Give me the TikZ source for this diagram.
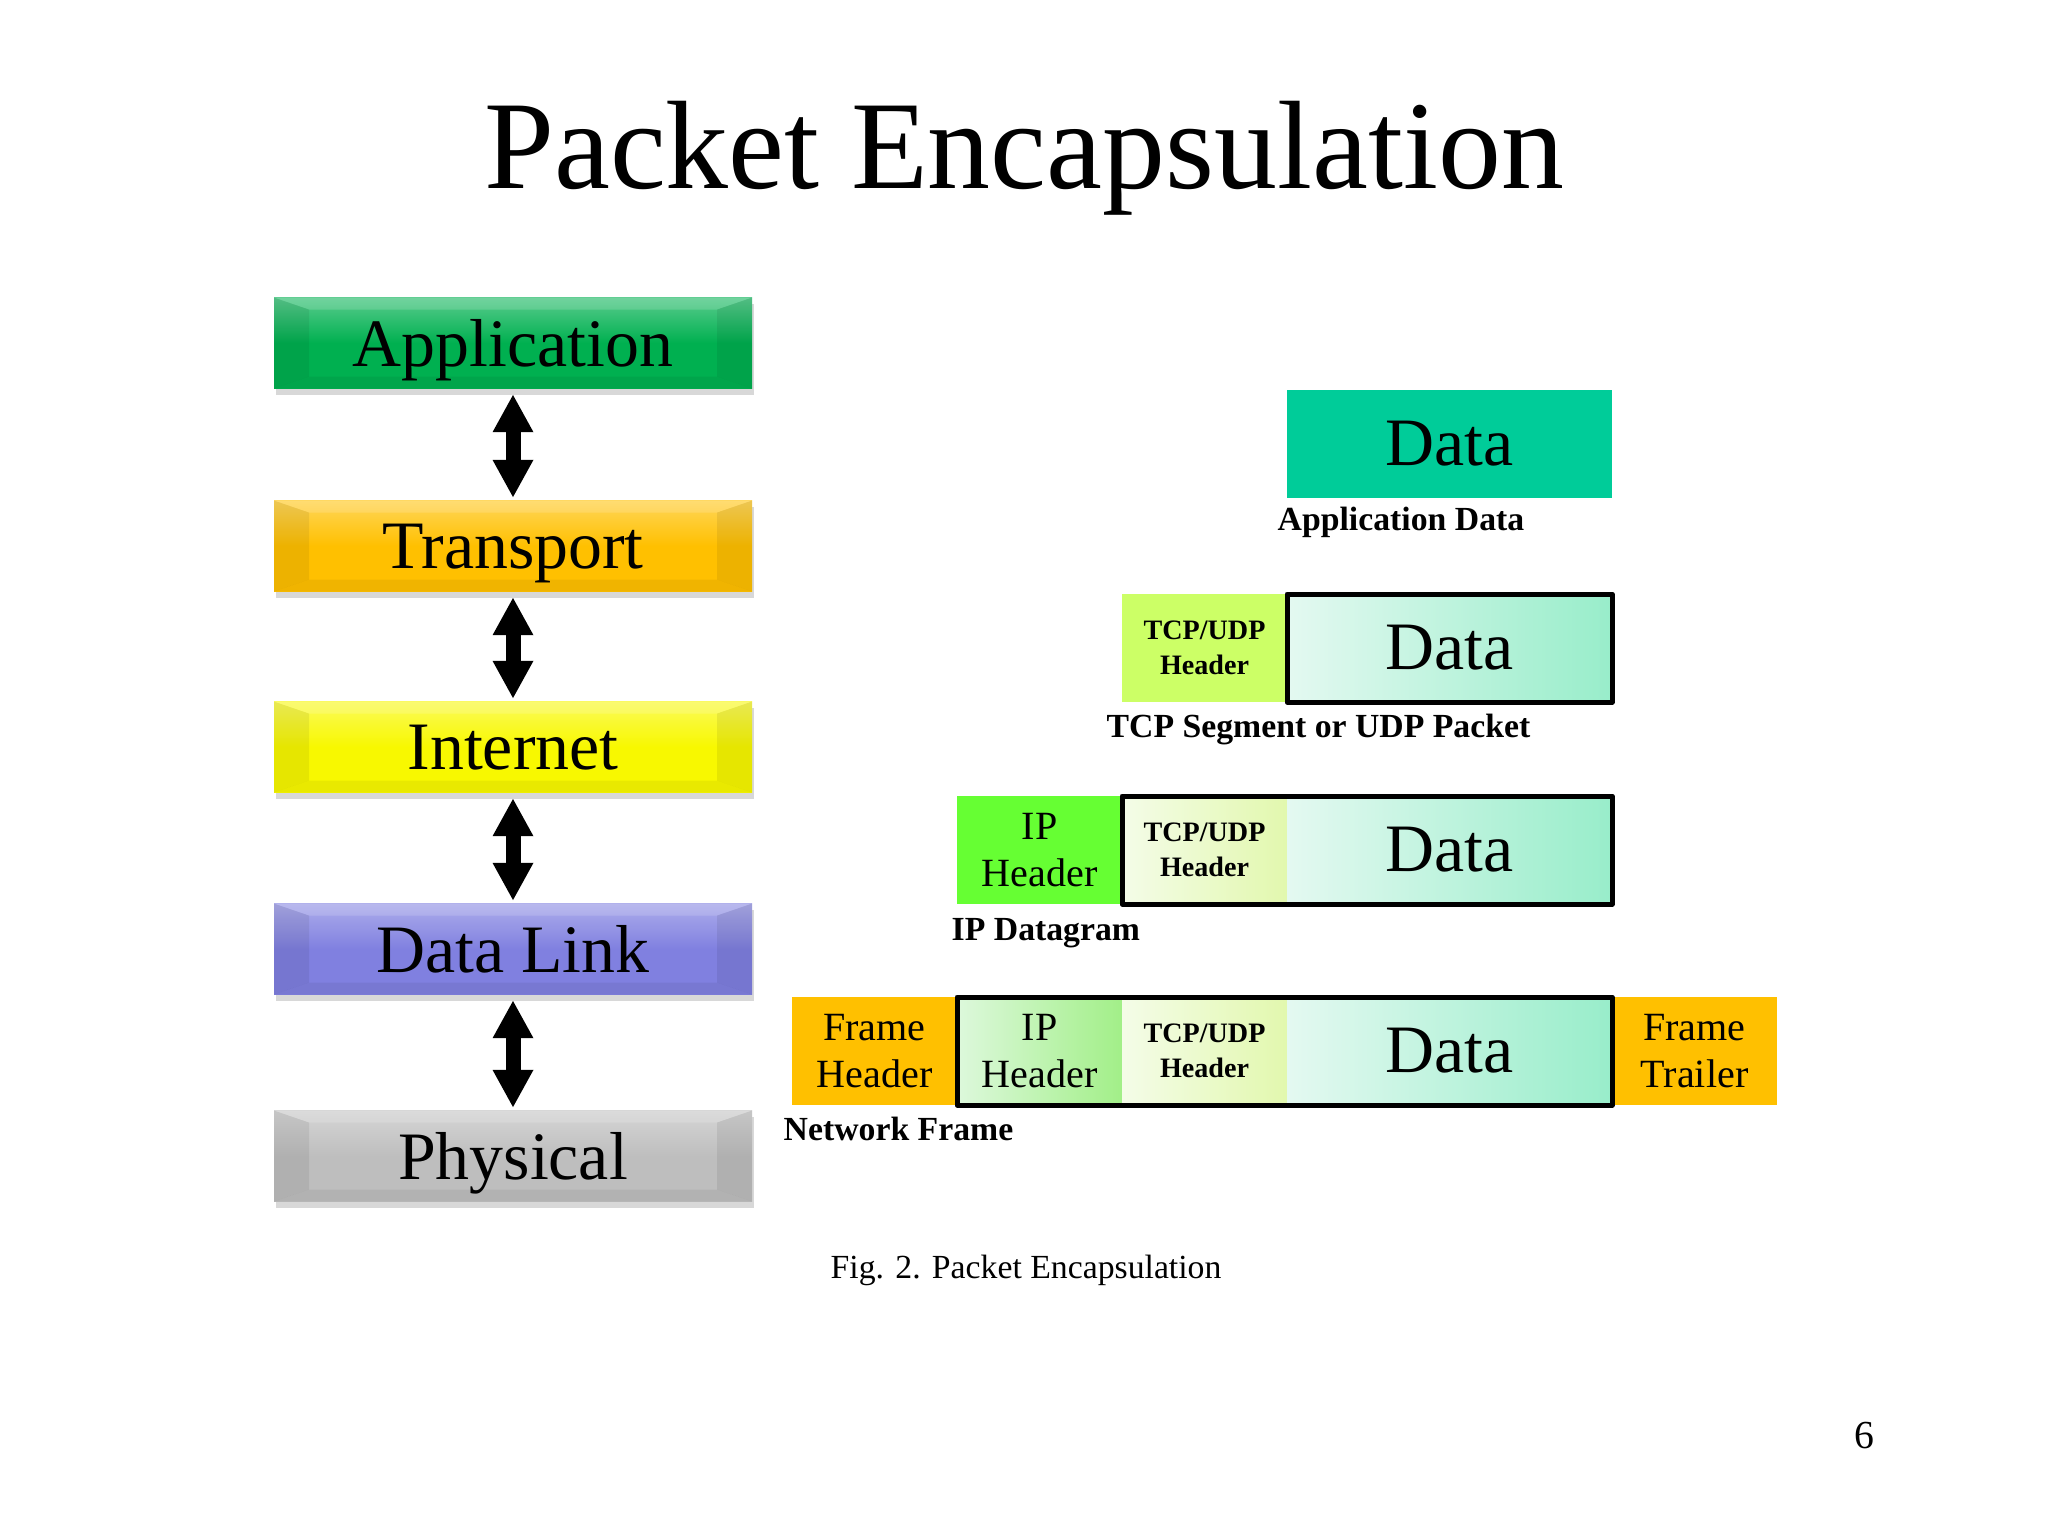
\documentclass[tikz,border=0pt]{standalone}
\usepackage{fontspec}
\setmainfont{Liberation Serif}
\usetikzlibrary{arrows.meta,shadows}
\definecolor{appgreen}{HTML}{00B050}
\definecolor{transorange}{HTML}{FFC000}
\definecolor{netyellow}{HTML}{F8F800}
\definecolor{linkblue}{HTML}{8080E0}
\definecolor{physgrey}{HTML}{BEBEBE}
\definecolor{datateal}{HTML}{00CC99}
\definecolor{tcplime}{HTML}{CCFF66}
\definecolor{iplime}{HTML}{66FF33}
\definecolor{frameorange}{HTML}{FFC000}
\definecolor{datalight}{HTML}{E4F9F1}
\definecolor{datadeep}{HTML}{98EDCA}
\definecolor{tcplight}{HTML}{F4FCE8}
\definecolor{tcpdeep}{HTML}{E2F8AE}
\definecolor{iplight}{HTML}{DDF8DC}
\definecolor{ipdeep}{HTML}{A2EF88}

\begin{document}
\begin{tikzpicture}[x=0.1mm, y=-0.1mm,
  layer/.style={minimum width=47.8mm, minimum height=9.1mm, inner sep=0pt, text depth=0pt,
    font=\fontsize{19.3}{23}\selectfont, top color=#1!65!white, bottom color=#1, middle color=#1,
    drop shadow={opacity=0.3, shadow xshift=0.2mm, shadow yshift=-0.6mm},
    path picture={
      \fill[black, opacity=0.07] (path picture bounding box.north west) -- ++(3.5mm,-1.2mm) -- ++(0,-6.7mm) -- (path picture bounding box.south west) -- cycle;
      \fill[black, opacity=0.07] (path picture bounding box.north east) -- ++(-3.5mm,-1.2mm) -- ++(0,-6.7mm) -- (path picture bounding box.south east) -- cycle;
      \fill[white, opacity=0.15] (path picture bounding box.north west) -- ++(3.5mm,-1.2mm) -- ++(40.8mm,0) -- (path picture bounding box.north east) -- cycle;
      \fill[black, opacity=0.06] (path picture bounding box.south west) -- ++(3.5mm,1.2mm) -- ++(40.8mm,0) -- (path picture bounding box.south east) -- cycle;
    }},
  cell/.style={anchor=north west, minimum height=10.8mm, inner sep=0pt, outer sep=0pt},
  hdr/.style={cell, minimum width=16.5mm},
  body/.style={cell, minimum width=32.5mm, font=\fontsize{19.3}{23}\selectfont},
  small/.style={align=center, font=\fontsize{8}{10}\selectfont\bfseries},
  big/.style={align=center, font=\fontsize{11.4}{13.4}\selectfont},
  tag/.style={anchor=base west, inner sep=0pt, font=\fontsize{9.6}{12}\selectfont\bfseries},
  updown/.style={line width=1.5mm, {Triangle[width=3.8mm,length=3.8mm]}-{Triangle[width=3.8mm,length=3.8mm]},
    shorten <=0.5mm, shorten >=0.2mm},
  wrap/.style={line width=0.5mm, line join=round}]

  \useasboundingbox[fill=white] (0,0) rectangle (2048,1536);

  \node[anchor=base, font=\fontsize{35.8}{40}\selectfont] (title) at (1024,188) {Packet Encapsulation};

  \node[layer=appgreen] (app) at (513,343) {Application};
  \node[layer=transorange] (trans) at (513,546) {Transport};
  \node[layer=netyellow] (inet) at (513,747) {Internet};
  \node[layer=linkblue] (link) at (513,949) {Data Link};
  \node[layer=physgrey] (phys) at (513,1156) {Physical};
  \draw[updown] (app) -- (trans);
  \draw[updown] (trans) -- (inet);
  \draw[updown] (inet) -- (link);
  \draw[updown] (link) -- (phys);

  \node[body, fill=datateal] (data1) at (1287,390) {Data};
  \node[tag] (lbl1) at (1277,530) {Application Data};

  \node[hdr, fill=tcplime, small] (tcp2) at (1122,594) {TCP/UDP\\Header};
  \node[body, left color=datalight, right color=datadeep] (data2) at (1287,594) {Data};
  \draw[wrap] (data2.north west) rectangle (data2.south east);
  \node[tag] (lbl2) at (1106,737) {TCP Segment or UDP Packet};

  \node[hdr, fill=iplime, big] (ip3) at (957,796) {IP\\Header};
  \node[hdr, left color=tcplight, right color=tcpdeep, small] (tcp3) at (1122,796) {TCP/UDP\\Header};
  \node[body, left color=datalight, right color=datadeep] (data3) at (1287,796) {Data};
  \draw[wrap] (tcp3.north west) rectangle (data3.south east);
  \node[tag] (lbl3) at (951,940) {IP Datagram};

  \node[hdr, fill=frameorange, big] (fh4) at (792,997) {Frame\\Header};
  \node[hdr, left color=iplight, right color=ipdeep, big] (ip4) at (957,997) {IP\\Header};
  \node[hdr, left color=tcplight, right color=tcpdeep, small] (tcp4) at (1122,997) {TCP/UDP\\Header};
  \node[body, left color=datalight, right color=datadeep] (data4) at (1287,997) {Data};
  \node[hdr, fill=frameorange, big] (ft4) at (1612,997) {Frame\\Trailer};
  \draw[wrap] (ip4.north west) rectangle (data4.south east);
  \node[tag] (lbl4) at (783,1140) {Network Frame};

  \node[anchor=base west, inner sep=0pt, font=\fontsize{9.6}{12}\selectfont] (caption) at (830,1278) {Fig. 2. Packet Encapsulation};
  \node[anchor=base, font=\fontsize{11.3}{13}\selectfont] (pagenum) at (1864,1448) {6};
\end{tikzpicture}
\end{document}
